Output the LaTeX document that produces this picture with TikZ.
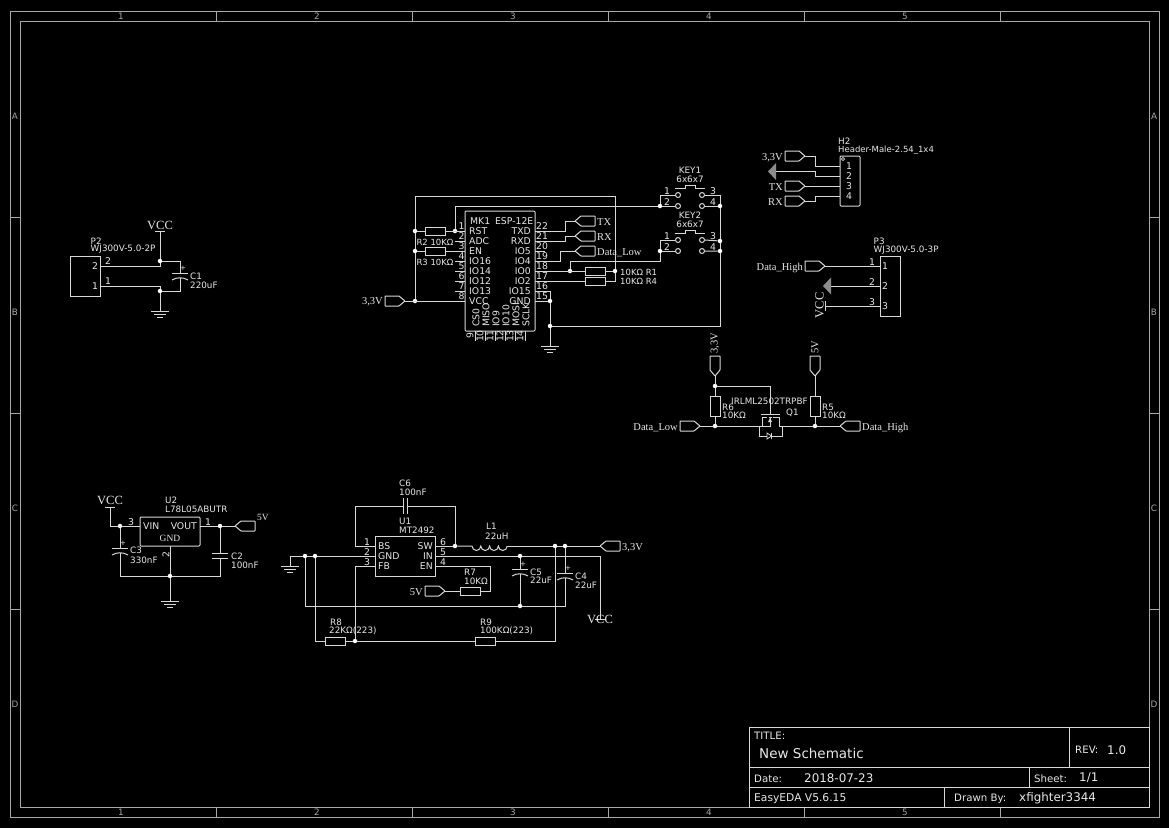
\documentclass[tikz,border=0pt]{standalone}
\usepackage{fontspec}
\setmainfont{Liberation Serif}
\newfontfamily\dvs{DejaVu Sans}
\usetikzlibrary{calc}
\definecolor{ln}{HTML}{D8D8D8}
\definecolor{fr}{HTML}{A8A8A8}
\definecolor{tx}{HTML}{E8E8E8}
\definecolor{gg}{HTML}{8C8C8C}
\newcount\tcnt
\tikzset{
 wire/.style={draw=ln,line width=1pt,line join=miter},
 frame/.style={draw=fr,line width=1pt},
 res/.style={draw=ln,line width=1pt,rectangle,minimum width=20pt,minimum height=8pt,inner sep=0pt,outer sep=0pt},
 vres/.style={draw=ln,line width=1pt,rectangle,minimum width=10pt,minimum height=20pt,inner sep=0pt,outer sep=0pt},
 dotj/.style={circle,fill=white,draw=none,minimum size=4.5pt,inner sep=0pt},
 sn/.style={text=tx,inner sep=0pt,font=\dvs\fontsize{8.8}{9}\selectfont},
 sv/.style={text=tx,inner sep=0pt,font=\dvs\fontsize{8.5}{9}\selectfont},
 pn/.style={text=tx,inner sep=0pt,font=\dvs\fontsize{9.3}{9}\selectfont},
 sr/.style={text=tx,inner sep=0pt,font=\fontsize{10.5}{11}\selectfont},
 vc/.style={text=tx,inner sep=0pt,font=\fontsize{12.5}{13}\selectfont},
 fl/.style={text=fr,inner sep=0pt,font=\dvs\fontsize{8.8}{9}\selectfont},
}
% text: style, x, y, anchor, text (extra options)
\newcommand{\T}[6][]{\global\advance\tcnt by 1 \node[#2,anchor=#5,#1] (txt\the\tcnt) at (#3,#4) {#6};}
% junction
\newcommand{\J}[3]{\node[dotj] (#1) at (#2,#3) {};}
% flags: name tip x y ; R = tip points right, L = tip points left, D = tip points down
\newcommand{\flagR}[3]{\coordinate (#1) at (#2,#3);\draw[wire,rounded corners=0.5pt] (#1) -- ++(-6,-5) -- ++(-14,0) -- ++(0,10) -- ++(14,0) -- cycle;}
\newcommand{\flagL}[3]{\coordinate (#1) at (#2,#3);\draw[wire,rounded corners=0.5pt] (#1) -- ++(6,-5) -- ++(14,0) -- ++(0,10) -- ++(-14,0) -- cycle;}
\newcommand{\flagD}[3]{\coordinate (#1) at (#2,#3);\draw[wire,rounded corners=0.5pt] (#1) -- ++(-5,-6) -- ++(0,-14) -- ++(10,0) -- ++(0,14) -- cycle;}
% ground pointing down
\newcommand{\gndD}[1]{\draw[wire] ($(#1)+(-9,0)$) -- ++(18,0) ($(#1)+(-6,3)$) -- ++(12,0) ($(#1)+(-3,6)$) -- ++(6,0);}
% grey ground pointing left (solid wedge)
\newcommand{\gndL}[1]{\fill[gg] ($(#1)+(1,-8.5)$) -- ($(#1)+(1,8.5)$) -- ($(#1)+(-7,0)$) -- cycle;}
\newcommand{\vccbar}[1]{\draw[wire] ($(#1)+(-5,0)$) -- ++(10,0);}
% polarised capacitor
\newcommand{\pcap}[3]{% name x ytop-plate (curved below)
 \draw[wire] (#2-8,#3) -- (#2+8,#3);
 \draw[wire] (#2-8,#3+7) .. controls (#2-3,#3+4) and (#2+3,#3+4) .. (#2+8,#3+7);
 \coordinate (#1a) at (#2,#3); \coordinate (#1b) at (#2,#3+5);
 \T{sn}{#2+3}{#3-5}{center}{\fontsize{7}{7}\selectfont +}}
\newcommand{\sw}[3]{% name x y of top bar centre
 \draw[wire] (#2-15,#3) -- (#2-5,#3) -- (#2-5,#3-3) -- (#2+5,#3-3) -- (#2+5,#3) -- (#2+15,#3);
 \draw[wire] (#2-12,#3+7) circle (2.5) (#2+12,#3+7) circle (2.5) (#2-12,#3+18) circle (2.5) (#2+12,#3+18) circle (2.5);
 \coordinate (#1-1) at (#2-15,#3+7); \coordinate (#1-2) at (#2-15,#3+18);
 \coordinate (#1-3) at (#2+15,#3+7); \coordinate (#1-4) at (#2+15,#3+18);}
\begin{document}
\begin{tikzpicture}[x=1pt,y=-1pt]
\useasboundingbox[fill=black] (0,0) rectangle (1169,828);
% ---------- sheet frame
\draw[frame] (10.5,11) rectangle (1159,817);
\draw[frame] (20,21) rectangle (1149,807);
\foreach \x in {216,412,608,804,1000}{\draw[frame] (\x,11) -- (\x,21); \draw[frame] (\x,807) -- (\x,817);}
\foreach \y in {217,413,609}{\draw[frame] (10.5,\y) -- (20,\y); \draw[frame] (1149,\y) -- (1159,\y);}
\foreach \l/\x in {1/121,2/317,3/513,4/709,5/905}{%
 \T{fl}{\x}{16}{center}{\l}\T{fl}{\x}{812}{center}{\l}}
\foreach \l/\y in {A/116,B/312,C/508,D/704}{%
 \T{fl}{15}{\y}{center}{\l}\T{fl}{1154}{\y}{center}{\l}}
% ---------- title block
\fill[black] (749,727) rectangle (1149,807);
\draw[wire] (749,727) rectangle (1149,807);
\draw[wire] (749,767) -- (1149,767) (749,787) -- (1149,787);
\draw[wire] (1069,727) -- (1069,767) (1029,767) -- (1029,787) (944,787) -- (944,807);
\tikzset{tb/.style={text=tx,inner sep=0pt,font=\dvs\fontsize{10.2}{11}\selectfont},tc/.style={text=tx,inner sep=0pt,font=\dvs\fontsize{11.9}{12}\selectfont}}
\T{tb}{754}{735.5}{west}{TITLE:}
\T[font=\dvs\fontsize{13.5}{14}\selectfont]{tc}{759}{753}{west}{New Schematic}
\T{tb}{1075}{749.5}{west}{REV:}
\T{tc}{1107}{750}{west}{1.0}
\T{tb}{754}{778.5}{west}{Date:}
\T{tc}{804}{778}{west}{2018-07-23}
\T{tb}{1034}{778.5}{west}{Sheet:}
\T{tc}{1079}{778}{west}{1/1}
\T[font=\dvs\fontsize{10.7}{11}\selectfont]{tb}{754}{798.5}{west}{EasyEDA V5.6.15}
\T{tb}{954}{798.5}{west}{Drawn By:}
\T{tc}{1019}{798}{west}{xfighter3344}

% ---------- ESP-12E
\node[draw=ln,line width=1pt,rounded corners=1pt,minimum width=70pt,minimum height=120pt,inner sep=0pt,outer sep=0pt] (esp) at (500,271) {};
\foreach \n/\y/\nm in {1/231/RST,2/241/ADC,3/251/EN,4/261/IO16,5/271/IO14,6/281/IO12,7/291/IO13,8/301/VCC}{%
 \coordinate (EL\n) at (465,\y); \coordinate (ELo\n) at (455,\y);
 \draw[wire] (EL\n) -- (ELo\n);
 \T{pn}{469}{\y}{west}{\nm}
 \T{pn}{461.5}{\y-4.5}{center}{\n}}
\foreach \n/\y/\nm in {22/231/TXD,21/241/RXD,20/251/IO5,19/261/IO4,18/271/IO0,17/281/IO2,16/291/IO15,15/301/GND}{%
 \coordinate (ER\n) at (535,\y); \coordinate (ERo\n) at (545,\y);
 \draw[wire] (ER\n) -- (ERo\n);
 \T{pn}{531}{\y}{east}{\nm}
 \T{pn}{542}{\y-4.5}{center}{\n}}
\T{pn}{470}{221}{west}{MK1}
\T{pn}{533.5}{221}{east}{ESP-12E}
\foreach \n/\x/\nm in {9/475/CS0,10/485/MISO,11/495/IO9,12/505/IO10,13/515/MOSI,14/525/SCLK}{%
 \draw[wire] (\x,331) -- (\x,341);
 \T[rotate=90]{pn}{\x+1}{327}{west}{\nm}
 \T[rotate=90]{pn}{\x-5}{336}{center}{\n}}
% R2 R3 R1 R4
\node[res] (R2) at (435,231) {}; \node[res] (R3) at (435,251) {};
\node[res] (R1) at (595,271) {}; \node[res] (R4) at (595,281) {};
\T{sv}{435}{242}{center}{R2 10KΩ}
\T{sv}{435}{262}{center}{R3 10KΩ}
\T{sv}{620}{272}{west}{10KΩ R1}
\T{sv}{620}{281.5}{west}{10KΩ R4}
% switches
\sw{K1}{690}{188}
\sw{K2}{690}{233}
\T{sn}{690}{170.5}{center}{KEY1}
\T{sn}{690}{179}{center}{6x6x7}
\T{sn}{690}{215.5}{center}{KEY2}
\T{sn}{690}{224}{center}{6x6x7}
\foreach \n/\x/\y in {1/667/191,2/667/202,3/713/191,4/713/202,1/667/236,2/667/247,3/713/236,4/713/247}{\T{pn}{\x}{\y}{center}{\n}}
\J{Ja}{415}{301} \J{Jb}{415}{251} \J{Jc}{415}{231} \J{Jd}{455}{231}
\J{Je}{660}{206} \J{Jf}{660}{251} \J{Jg}{720}{206} \J{Jh}{720}{241} \J{Ji}{720}{251}
\J{Jk}{570}{271} \J{Jl}{615}{271} \J{Jm}{550}{301} \J{Jn}{550}{326}
\flagR{F33a}{405}{301}
\T{sr}{383}{302}{east}{3,3V}
\draw[wire] (F33a) -- (EL8);
\draw[wire] (Ja) -- (Jb) -- (Jc) -- (415,196) -- (615,196) -- (Jl);
\draw[wire] (Jc) -- (R2.west) (R2.east) -- (EL1);
\draw[wire] (Jb) -- (R3.west) (R3.east) -- (EL3);
\draw[wire] (Jd) -- (455,206) -- (Je);
\draw[wire] (K1-1) -- (660,195) -- (Je) -- (K1-2);
\draw[wire] (K1-3) -- (720,195) -- (Jg) (K1-4) -- (Jg);
\draw[wire] (K2-1) -- (660,240) -- (Jf) -- (K2-2);
\draw[wire] (K2-3) -- (Jh) (K2-4) -- (Ji);
\draw[wire] (Jg) -- (Jh) -- (Ji) -- (Jn -| Ji) -- (Jn);
\flagL{FTX}{575}{221} \flagL{FRX}{575}{236} \flagL{FDL}{575}{251}
\T{sr}{597}{222}{west}{TX}
\T{sr}{597}{237}{west}{RX}
\T{sr}{597}{253}{west}{Data\_Low}
\draw[wire] (ERo22) -- (565,231) -- (565,221) -- (FTX);
\draw[wire] (ERo21) -- (565,241) -- (565,236) -- (FRX);
\draw[wire] (ERo19) -- (560,261) -- (560,251) -- (FDL);
\draw[wire] (ERo18) -- (R1.west) (R1.east) -- (Jl);
\draw[wire] (ERo17) -- (R4.west) (R4.east) -- (615,281) -- (Jl);
\draw[wire] (Jk) -- (570,261) -- (660,261) -- (Jf);
\coordinate (G1) at (550,346);
\draw[wire] (ERo16) -- (550,291) -- (Jm) -- (ERo15);
\draw[wire] (Jm) -- (Jn) -- (G1);
\gndD{G1}

% ---------- H2
\node[draw=ln,line width=1pt,rounded corners=1pt,minimum width=20pt,minimum height=50pt,inner sep=0pt,outer sep=0pt] (H2) at (850,181) {};
\draw[wire,line width=.7pt] (843,159) circle (1.6);
\T{sn}{838}{141}{west}{H2}
\T{sv}{838}{150}{west}{Header-Male-2.54\_1x4}
\foreach \n/\y in {1/166,2/176,3/186,4/196}{\coordinate (Hp\n) at (840,\y);\T{pn}{846}{\y+.5}{west}{\n}}
\flagR{FH33}{805}{156}\flagR{FHTX}{805}{186}\flagR{FHRX}{805}{201}
\T{sr}{783}{157.5}{east}{3,3V}
\T{sr}{783}{187.5}{east}{TX}
\T{sr}{783}{202.5}{east}{RX}
\draw[wire] (FH33) -- (815,156) -- (815,166) -- (Hp1);
\draw[wire] (FHTX) -- (Hp3);
\draw[wire] (FHRX) -- (815,201) -- (815,196) -- (Hp4);
\coordinate (GH) at (775,171.5);
\draw[wire] (Hp2) -- (815,176) -- (815,171.5) -- (GH);
\gndL{GH}

% ---------- P3
\node[draw=ln,line width=1pt,minimum width=20pt,minimum height=60pt,inner sep=0pt,outer sep=0pt] (P3) at (890,286) {};
\T{sn}{873.5}{241}{west}{P3}
\T{sn}{873.5}{250}{west}{WJ300V-5.0-3P}
\foreach \n/\y in {1/266,2/286,3/306}{\coordinate (Pp\n) at (880,\y);\T{pn}{885}{\y+.5}{center}{\n}\T{pn}{872}{\y-4}{center}{\n}}
\flagR{FDH}{825}{266}
\T{sr}{803}{268}{east}{Data\_High}
\draw[wire] (FDH) -- (Pp1);
\coordinate (GP) at (830,286); \draw[wire] (Pp2) -- (GP); \gndL{GP}
\coordinate (VP) at (825,306); \draw[wire] (Pp3) -- (VP);
\draw[wire] (825,301) -- (825,311);
\T[rotate=90]{vc}{819.5}{305.5}{center}{VCC}

% ---------- level shifter
\flagD{FL33}{715}{376}
\flagD{FL5}{815}{376}
\T[rotate=90]{sr}{715}{354}{west}{3,3V}
\T[rotate=90]{sr}{815}{354}{west}{5V}
\node[vres] (R6) at (715,406) {};
\node[vres] (R5) at (815,406) {};
\J{Jq}{715}{386}\J{Jr}{715}{426}\J{Js}{815}{426}
\flagR{FLL}{700}{426}\flagL{FLH}{840}{426}
\T{sr}{678}{428}{east}{Data\_Low}
\T{sr}{862}{428}{west}{Data\_High}
\T{sn}{731}{401}{west}{IRLML2502TRPBF}
\T{sn}{786}{412.5}{west}{Q1}
\T{sn}{722}{407}{west}{R6}
\T{sn}{722}{415.5}{west}{10KΩ}
\T{sn}{822}{407}{west}{R5}
\T{sn}{822}{415.5}{west}{10KΩ}
\draw[wire] (FL33) -- (Jq) -- (R6.north) (R6.south) -- (Jr);
\draw[wire] (FL5) -- (R5.north) (R5.south) -- (Js);
\draw[wire] (FLL) -- (Jr) -- (762,426) (779,426) -- (Js) -- (FLH);
\draw[wire] (Jq) -- (770,386) -- (770,414);
\draw[wire] (761,414) -- (780,414);
\draw[wire] (762,417) -- (767,417) (768.5,417) -- (771.5,417) (773,417) -- (779,417);
\draw[wire] (762,417) -- (762,426) (779,417) -- (779,426);
\draw[wire] (770,417) -- (770,426) -- (762,426);
\fill[ln] (770,418) -- (768,422) -- (772,422) -- cycle;
\draw[wire] (759,426) -- (759,436) -- (767,436) (772,436) -- (782,436) -- (782,426);
\draw[wire,line width=.8pt] (767,433) -- (767,439) -- (771.5,436) -- cycle (771.5,433) -- (771.5,439);

% ---------- P2 / C1
\node[draw=ln,line width=1pt,minimum width=30pt,minimum height=40pt,inner sep=0pt,outer sep=0pt] (P2) at (85,276) {};
\T{sn}{90.5}{241}{west}{P2}
\T{sn}{90.5}{249.5}{west}{WJ300V-5.0-2P}
\coordinate (P2a) at (100,266); \coordinate (P2b) at (100,286);
\T{pn}{95}{266}{center}{2} \T{pn}{95}{286}{center}{1}
\T{pn}{108}{261.5}{center}{2} \T{pn}{108}{281.5}{center}{1}
\J{Jt}{160}{261}\J{Ju}{160}{291}
\coordinate (VC1) at (160,231); \vccbar{VC1}
\T{vc}{160}{225}{center}{VCC}
\coordinate (GC1) at (160,311);
\pcap{C1}{180}{273}
\T{sn}{190}{276}{west}{C1}
\T{sn}{190}{285}{west}{220uF}
\draw[wire] (VC1) -- (Jt) -- (160,266) -- (P2a);
\draw[wire] (P2b) -- (160,286) -- (Ju) -- (GC1);
\draw[wire] (Jt) -- (180,261) -- (C1a);
\draw[wire] (C1b) -- (180,291) -- (Ju);
\gndD{GC1}

% ---------- U2
\node[draw=ln,line width=1pt,rounded corners=1pt,minimum width=60pt,minimum height=29pt,inner sep=0pt,outer sep=0pt] (U2) at (170,531.5) {};
\T{sn}{165}{500.5}{west}{U2}
\T{sn}{165}{509.5}{west}{L78L05ABUTR}
\T{pn}{143}{526.5}{west}{VIN}
\T{pn}{197}{526.5}{east}{VOUT}
\T[font=\fontsize{9.5}{10}\selectfont]{sr}{170}{538}{center}{GND}
\T{pn}{131}{522}{center}{3}
\T{pn}{208}{522}{center}{1}
\T[rotate=90]{pn}{166}{555}{center}{2}
\coordinate (VU) at (110,507); \vccbar{VU}
\T{vc}{110}{500}{center}{VCC}
\J{Jv}{120}{526}\J{Jw}{220}{526}\J{Jx}{170}{576}
\flagL{F5a}{235}{526}
\T[font=\fontsize{9.5}{10}\selectfont]{sr}{257}{517.5}{west}{5V}
\pcap{C3}{120}{548}
\T{sn}{130}{550}{west}{C3}
\T{sn}{130}{560}{west}{330nF}
\draw[wire] (212,553) -- (228,553) (212,558) -- (228,558);
\T{sn}{231}{556}{west}{C2}
\T{sn}{231}{565}{west}{100nF}
\coordinate (GU) at (170,601);
\draw[wire] (VU) -- (110,526) -- (Jv) -- (140,526);
\draw[wire] (200,526) -- (Jw) -- (F5a);
\draw[wire] (Jv) -- (C3a) (C3b) -- (120,576) -- (Jx) -- (220,576) -- (220,558) (220,553) -- (Jw);
\draw[wire] (170,546) -- (Jx) -- (GU);
\gndD{GU}

% ---------- U1 MT2492
\node[draw=ln,line width=1pt,minimum width=60pt,minimum height=40pt,inner sep=0pt,outer sep=0pt] (U1) at (405,556) {};
\T{sn}{399}{521}{west}{U1}
\T{sn}{399}{530}{west}{MT2492}
\T{sn}{399}{483}{west}{C6}
\T{sn}{399}{492}{west}{100nF}
\foreach \n/\y/\nm in {1/546/BS,2/556/GND,3/566/FB}{\T{pn}{378}{\y.5}{west}{\nm}\T{pn}{367}{\y-4}{center}{\n}}
\foreach \n/\y/\nm in {6/546/SW,5/556/IN,4/566/EN}{\T{pn}{433}{\y.5}{east}{\nm}\T{pn}{443}{\y-4}{center}{\n}}
\draw[wire] (403,498) -- (403,514) (407,498) -- (407,514);
\J{Ka}{455}{546}\J{Kb}{555}{546}\J{Kc}{565}{546}
\J{Kd}{520}{556}\J{Ke}{305}{556}\J{Kf}{315}{556}
\J{Kg}{520}{606}\J{Kh}{355}{641}
\draw[wire] (375,546) -- (355,546) -- (355,506) -- (403,506) (407,506) -- (455,506) -- (Ka) -- (435,546);
% inductor
\draw[wire] (Ka) -- (472,546)
  arc[start angle=180,end angle=0,x radius=4.4,y radius=4.5] arc[start angle=180,end angle=0,x radius=4.4,y radius=4.5]
  arc[start angle=180,end angle=0,x radius=4.4,y radius=4.5] arc[start angle=180,end angle=0,x radius=4.4,y radius=4.5];
\T{sn}{486}{526}{west}{L1}
\T{sn}{485}{536}{west}{22uH}
\flagL{F33b}{600}{546}
\T{sr}{622}{547.5}{west}{3,3V}
\draw[wire] (507,546) -- (Kb) -- (Kc) -- (F33b);
\coordinate (VB) at (600,619);
\draw[wire] (435,556) -- (Kd) -- (600,556) -- (VB);
\vccbar{VB}
\T{vc}{600}{619}{center}{VCC}
\node[res] (R7) at (470.5,591) {};
\T{sn}{464}{572}{west}{R7}
\T{sn}{464}{581}{west}{10KΩ}
\flagR{F5b}{445}{591}
\T{sr}{423}{592}{east}{5V}
\draw[wire] (435,566) -- (490,566) -- (490,591) -- (R7.east) (R7.west) -- (F5b);
\pcap{C5}{520}{569}
\pcap{C4}{565}{573}
\T{sn}{530}{572}{west}{C5}
\T{sn}{530}{580.5}{west}{22uF}
\T{sn}{575}{576}{west}{C4}
\T{sn}{575}{585}{west}{22uF}
\draw[wire] (Kd) -- (C5a) (C5b) -- (Kg);
\draw[wire] (Kc) -- (C4a) (C4b) -- (565,606) -- (Kg) -- (305,606) -- (Ke);
\coordinate (GL) at (290,566);
\draw[wire] (375,556) -- (Kf) -- (Ke) -- (290,556) -- (GL);
\gndD{GL}
\node[res] (R8) at (335,641) {};
\node[res] (R9) at (485,641) {};
\T{sn}{330}{622}{west}{R8}
\T{sn}{329}{631}{west}{22KΩ(223)}
\T{sn}{480}{622}{west}{R9}
\T{sn}{480}{631}{west}{100KΩ(223)}
\draw[wire] (Kf) -- (315,641) -- (R8.west) (R8.east) -- (Kh) -- (R9.west) (R9.east) -- (555,641) -- (Kb);
\draw[wire] (375,566) -- (355,566) -- (Kh);
\end{tikzpicture}
\end{document}
